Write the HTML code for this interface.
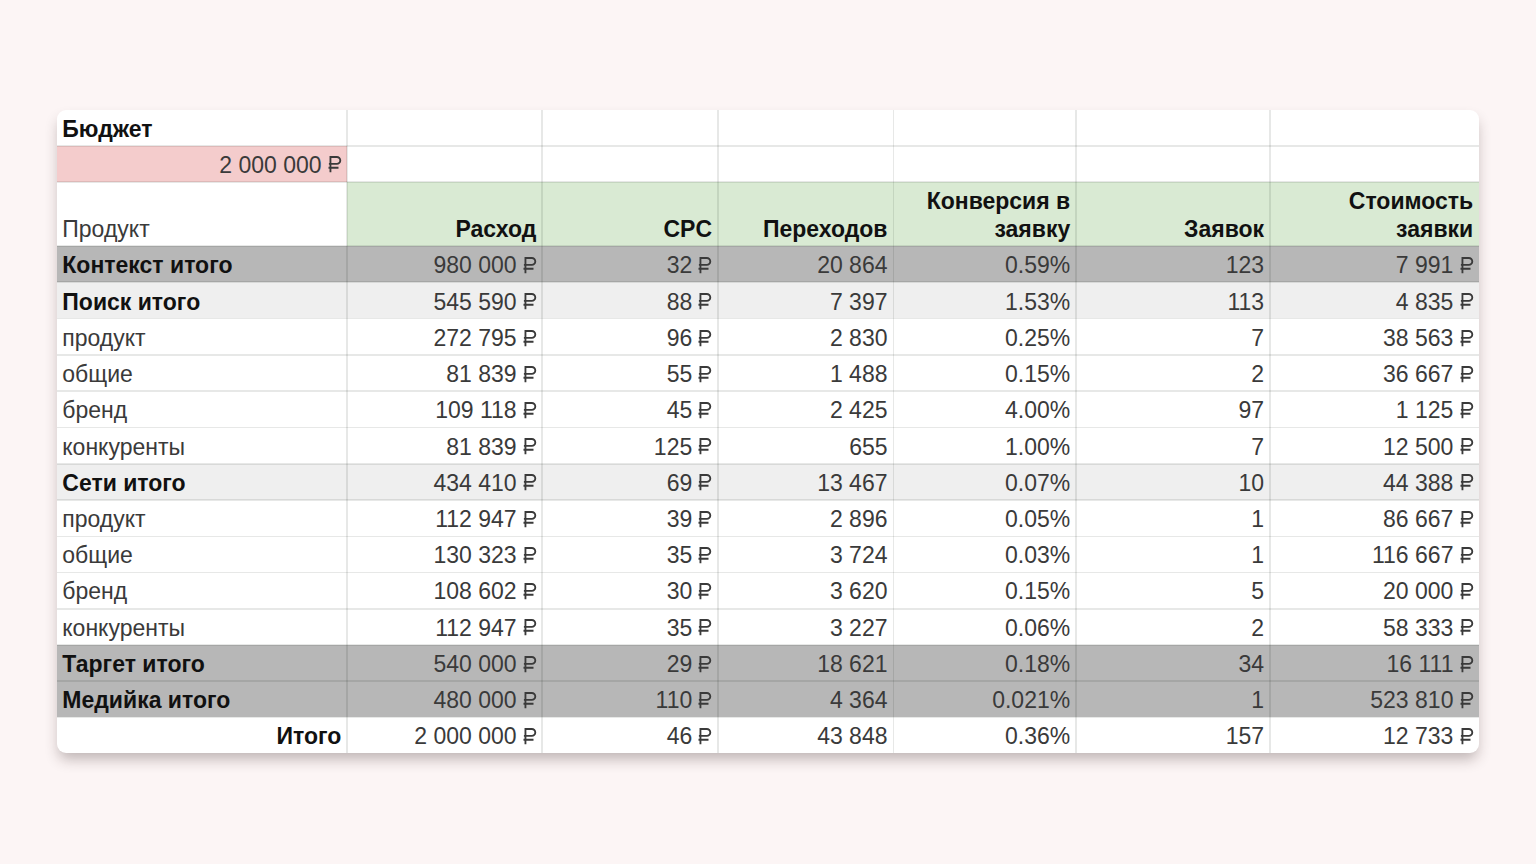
<!DOCTYPE html>
<html><head><meta charset="utf-8">
<style>
html,body{margin:0;padding:0;width:1536px;height:864px;overflow:hidden;background:#fcf5f5;}
body{position:relative;font-family:"Liberation Sans",sans-serif;font-size:23px;color:#3a3a3a;}
.card{position:absolute;left:57px;top:110.3px;width:1422px;height:642.7px;background:#fff;border-radius:9px;overflow:hidden;box-shadow:0 8px 14px -2px rgba(50,30,30,0.30);}
.bg{position:absolute;}
.vl{position:absolute;width:1.5px;background:rgba(0,10,5,0.095);}
.hl{position:absolute;height:1.5px;background:rgba(0,10,5,0.095);}
.t{position:absolute;white-space:nowrap;line-height:28px;height:28px;}
.b{font-weight:bold;color:#111;}
.R{text-align:right;}
.r{display:inline-block;vertical-align:baseline;overflow:visible;position:relative;left:-0.3px;}
</style></head><body>
<div class="card">
<div class="bg" style="left:0.00px;top:35.70px;width:290.20px;height:36.00px;background:#f4cccc"></div>
<div class="bg" style="left:290.20px;top:71.70px;width:1131.80px;height:64.00px;background:#d9ead3"></div>
<div class="bg" style="left:0.00px;top:135.70px;width:1422.00px;height:36.00px;background:#b7b7b7"></div>
<div class="bg" style="left:0.00px;top:171.70px;width:1422.00px;height:36.40px;background:#efefef"></div>
<div class="bg" style="left:0.00px;top:353.50px;width:1422.00px;height:36.20px;background:#efefef"></div>
<div class="bg" style="left:0.00px;top:534.50px;width:1422.00px;height:36.20px;background:#b7b7b7"></div>
<div class="bg" style="left:0.00px;top:570.70px;width:1422.00px;height:36.40px;background:#b7b7b7"></div>
<div class="vl" style="left:289.45px;top:0;height:642.7px"></div>
<div class="vl" style="left:484.45px;top:0;height:642.7px"></div>
<div class="vl" style="left:660.05px;top:0;height:642.7px"></div>
<div class="vl" style="left:835.55px;top:0;height:642.7px"></div>
<div class="vl" style="left:1018.25px;top:0;height:642.7px"></div>
<div class="vl" style="left:1212.15px;top:0;height:642.7px"></div>
<div class="hl" style="left:0;top:35.20px;width:1422px"></div>
<div class="hl" style="left:0;top:71.20px;width:1422px"></div>
<div class="hl" style="left:0;top:135.20px;width:1422px"></div>
<div class="hl" style="left:0;top:171.20px;width:1422px"></div>
<div class="hl" style="left:0;top:207.60px;width:1422px"></div>
<div class="hl" style="left:0;top:243.90px;width:1422px"></div>
<div class="hl" style="left:0;top:280.20px;width:1422px"></div>
<div class="hl" style="left:0;top:316.50px;width:1422px"></div>
<div class="hl" style="left:0;top:353.00px;width:1422px"></div>
<div class="hl" style="left:0;top:389.20px;width:1422px"></div>
<div class="hl" style="left:0;top:425.30px;width:1422px"></div>
<div class="hl" style="left:0;top:461.60px;width:1422px"></div>
<div class="hl" style="left:0;top:497.80px;width:1422px"></div>
<div class="hl" style="left:0;top:534.00px;width:1422px"></div>
<div class="hl" style="left:0;top:570.20px;width:1422px"></div>
<div class="hl" style="left:0;top:606.60px;width:1422px"></div>
<div class="t b" style="left:5.30px;top:4.23px">Бюджет</div>
<div class="t R" style="right:1137.60px;top:40.23px">2 000 000 <svg class="r" viewBox="0 0 13.4 17.25" width="13.4" height="17.25"><path d="M2.45 17.25V1.05M2.45 1.95H8.8A3.5 3.5 0 0 1 8.8 8.95H0.9M0.5 12.75H10.5" fill="none" stroke="currentColor" stroke-width="1.85"/></svg></div>
<div class="t" style="left:5.30px;top:104.43px">Продукт</div>
<div class="t b R" style="right:942.60px;top:104.93px">Расход</div>
<div class="t b R" style="right:767.00px;top:104.93px">CPC</div>
<div class="t b R" style="right:591.50px;top:104.93px">Переходов</div>
<div class="t b R" style="right:408.80px;top:76.53px">Конверсия в</div>
<div class="t b R" style="right:408.80px;top:104.93px">заявку</div>
<div class="t b R" style="right:214.90px;top:104.93px">Заявок</div>
<div class="t b R" style="right:5.80px;top:76.53px">Стоимость</div>
<div class="t b R" style="right:5.80px;top:104.93px">заявки</div>
<div class="t b" style="left:5.30px;top:141.14px">Контекст итого</div>
<div class="t R" style="right:942.60px;top:141.14px">980 000 <svg class="r" viewBox="0 0 13.4 17.25" width="13.4" height="17.25"><path d="M2.45 17.25V1.05M2.45 1.95H8.8A3.5 3.5 0 0 1 8.8 8.95H0.9M0.5 12.75H10.5" fill="none" stroke="currentColor" stroke-width="1.85"/></svg></div>
<div class="t R" style="right:767.00px;top:141.14px">32 <svg class="r" viewBox="0 0 13.4 17.25" width="13.4" height="17.25"><path d="M2.45 17.25V1.05M2.45 1.95H8.8A3.5 3.5 0 0 1 8.8 8.95H0.9M0.5 12.75H10.5" fill="none" stroke="currentColor" stroke-width="1.85"/></svg></div>
<div class="t R" style="right:591.50px;top:141.14px">20 864</div>
<div class="t R" style="right:408.80px;top:141.14px">0.59%</div>
<div class="t R" style="right:214.90px;top:141.14px">123</div>
<div class="t R" style="right:5.80px;top:141.14px">7 991 <svg class="r" viewBox="0 0 13.4 17.25" width="13.4" height="17.25"><path d="M2.45 17.25V1.05M2.45 1.95H8.8A3.5 3.5 0 0 1 8.8 8.95H0.9M0.5 12.75H10.5" fill="none" stroke="currentColor" stroke-width="1.85"/></svg></div>
<div class="t b" style="left:5.30px;top:177.36px">Поиск итого</div>
<div class="t R" style="right:942.60px;top:177.36px">545 590 <svg class="r" viewBox="0 0 13.4 17.25" width="13.4" height="17.25"><path d="M2.45 17.25V1.05M2.45 1.95H8.8A3.5 3.5 0 0 1 8.8 8.95H0.9M0.5 12.75H10.5" fill="none" stroke="currentColor" stroke-width="1.85"/></svg></div>
<div class="t R" style="right:767.00px;top:177.36px">88 <svg class="r" viewBox="0 0 13.4 17.25" width="13.4" height="17.25"><path d="M2.45 17.25V1.05M2.45 1.95H8.8A3.5 3.5 0 0 1 8.8 8.95H0.9M0.5 12.75H10.5" fill="none" stroke="currentColor" stroke-width="1.85"/></svg></div>
<div class="t R" style="right:591.50px;top:177.36px">7 397</div>
<div class="t R" style="right:408.80px;top:177.36px">1.53%</div>
<div class="t R" style="right:214.90px;top:177.36px">113</div>
<div class="t R" style="right:5.80px;top:177.36px">4 835 <svg class="r" viewBox="0 0 13.4 17.25" width="13.4" height="17.25"><path d="M2.45 17.25V1.05M2.45 1.95H8.8A3.5 3.5 0 0 1 8.8 8.95H0.9M0.5 12.75H10.5" fill="none" stroke="currentColor" stroke-width="1.85"/></svg></div>
<div class="t" style="left:5.30px;top:213.57px">продукт</div>
<div class="t R" style="right:942.60px;top:213.57px">272 795 <svg class="r" viewBox="0 0 13.4 17.25" width="13.4" height="17.25"><path d="M2.45 17.25V1.05M2.45 1.95H8.8A3.5 3.5 0 0 1 8.8 8.95H0.9M0.5 12.75H10.5" fill="none" stroke="currentColor" stroke-width="1.85"/></svg></div>
<div class="t R" style="right:767.00px;top:213.57px">96 <svg class="r" viewBox="0 0 13.4 17.25" width="13.4" height="17.25"><path d="M2.45 17.25V1.05M2.45 1.95H8.8A3.5 3.5 0 0 1 8.8 8.95H0.9M0.5 12.75H10.5" fill="none" stroke="currentColor" stroke-width="1.85"/></svg></div>
<div class="t R" style="right:591.50px;top:213.57px">2 830</div>
<div class="t R" style="right:408.80px;top:213.57px">0.25%</div>
<div class="t R" style="right:214.90px;top:213.57px">7</div>
<div class="t R" style="right:5.80px;top:213.57px">38 563 <svg class="r" viewBox="0 0 13.4 17.25" width="13.4" height="17.25"><path d="M2.45 17.25V1.05M2.45 1.95H8.8A3.5 3.5 0 0 1 8.8 8.95H0.9M0.5 12.75H10.5" fill="none" stroke="currentColor" stroke-width="1.85"/></svg></div>
<div class="t" style="left:5.30px;top:249.79px">общие</div>
<div class="t R" style="right:942.60px;top:249.79px">81 839 <svg class="r" viewBox="0 0 13.4 17.25" width="13.4" height="17.25"><path d="M2.45 17.25V1.05M2.45 1.95H8.8A3.5 3.5 0 0 1 8.8 8.95H0.9M0.5 12.75H10.5" fill="none" stroke="currentColor" stroke-width="1.85"/></svg></div>
<div class="t R" style="right:767.00px;top:249.79px">55 <svg class="r" viewBox="0 0 13.4 17.25" width="13.4" height="17.25"><path d="M2.45 17.25V1.05M2.45 1.95H8.8A3.5 3.5 0 0 1 8.8 8.95H0.9M0.5 12.75H10.5" fill="none" stroke="currentColor" stroke-width="1.85"/></svg></div>
<div class="t R" style="right:591.50px;top:249.79px">1 488</div>
<div class="t R" style="right:408.80px;top:249.79px">0.15%</div>
<div class="t R" style="right:214.90px;top:249.79px">2</div>
<div class="t R" style="right:5.80px;top:249.79px">36 667 <svg class="r" viewBox="0 0 13.4 17.25" width="13.4" height="17.25"><path d="M2.45 17.25V1.05M2.45 1.95H8.8A3.5 3.5 0 0 1 8.8 8.95H0.9M0.5 12.75H10.5" fill="none" stroke="currentColor" stroke-width="1.85"/></svg></div>
<div class="t" style="left:5.30px;top:286.00px">бренд</div>
<div class="t R" style="right:942.60px;top:286.00px">109 118 <svg class="r" viewBox="0 0 13.4 17.25" width="13.4" height="17.25"><path d="M2.45 17.25V1.05M2.45 1.95H8.8A3.5 3.5 0 0 1 8.8 8.95H0.9M0.5 12.75H10.5" fill="none" stroke="currentColor" stroke-width="1.85"/></svg></div>
<div class="t R" style="right:767.00px;top:286.00px">45 <svg class="r" viewBox="0 0 13.4 17.25" width="13.4" height="17.25"><path d="M2.45 17.25V1.05M2.45 1.95H8.8A3.5 3.5 0 0 1 8.8 8.95H0.9M0.5 12.75H10.5" fill="none" stroke="currentColor" stroke-width="1.85"/></svg></div>
<div class="t R" style="right:591.50px;top:286.00px">2 425</div>
<div class="t R" style="right:408.80px;top:286.00px">4.00%</div>
<div class="t R" style="right:214.90px;top:286.00px">97</div>
<div class="t R" style="right:5.80px;top:286.00px">1 125 <svg class="r" viewBox="0 0 13.4 17.25" width="13.4" height="17.25"><path d="M2.45 17.25V1.05M2.45 1.95H8.8A3.5 3.5 0 0 1 8.8 8.95H0.9M0.5 12.75H10.5" fill="none" stroke="currentColor" stroke-width="1.85"/></svg></div>
<div class="t" style="left:5.30px;top:322.22px">конкуренты</div>
<div class="t R" style="right:942.60px;top:322.22px">81 839 <svg class="r" viewBox="0 0 13.4 17.25" width="13.4" height="17.25"><path d="M2.45 17.25V1.05M2.45 1.95H8.8A3.5 3.5 0 0 1 8.8 8.95H0.9M0.5 12.75H10.5" fill="none" stroke="currentColor" stroke-width="1.85"/></svg></div>
<div class="t R" style="right:767.00px;top:322.22px">125 <svg class="r" viewBox="0 0 13.4 17.25" width="13.4" height="17.25"><path d="M2.45 17.25V1.05M2.45 1.95H8.8A3.5 3.5 0 0 1 8.8 8.95H0.9M0.5 12.75H10.5" fill="none" stroke="currentColor" stroke-width="1.85"/></svg></div>
<div class="t R" style="right:591.50px;top:322.22px">655</div>
<div class="t R" style="right:408.80px;top:322.22px">1.00%</div>
<div class="t R" style="right:214.90px;top:322.22px">7</div>
<div class="t R" style="right:5.80px;top:322.22px">12 500 <svg class="r" viewBox="0 0 13.4 17.25" width="13.4" height="17.25"><path d="M2.45 17.25V1.05M2.45 1.95H8.8A3.5 3.5 0 0 1 8.8 8.95H0.9M0.5 12.75H10.5" fill="none" stroke="currentColor" stroke-width="1.85"/></svg></div>
<div class="t b" style="left:5.30px;top:358.43px">Сети итого</div>
<div class="t R" style="right:942.60px;top:358.43px">434 410 <svg class="r" viewBox="0 0 13.4 17.25" width="13.4" height="17.25"><path d="M2.45 17.25V1.05M2.45 1.95H8.8A3.5 3.5 0 0 1 8.8 8.95H0.9M0.5 12.75H10.5" fill="none" stroke="currentColor" stroke-width="1.85"/></svg></div>
<div class="t R" style="right:767.00px;top:358.43px">69 <svg class="r" viewBox="0 0 13.4 17.25" width="13.4" height="17.25"><path d="M2.45 17.25V1.05M2.45 1.95H8.8A3.5 3.5 0 0 1 8.8 8.95H0.9M0.5 12.75H10.5" fill="none" stroke="currentColor" stroke-width="1.85"/></svg></div>
<div class="t R" style="right:591.50px;top:358.43px">13 467</div>
<div class="t R" style="right:408.80px;top:358.43px">0.07%</div>
<div class="t R" style="right:214.90px;top:358.43px">10</div>
<div class="t R" style="right:5.80px;top:358.43px">44 388 <svg class="r" viewBox="0 0 13.4 17.25" width="13.4" height="17.25"><path d="M2.45 17.25V1.05M2.45 1.95H8.8A3.5 3.5 0 0 1 8.8 8.95H0.9M0.5 12.75H10.5" fill="none" stroke="currentColor" stroke-width="1.85"/></svg></div>
<div class="t" style="left:5.30px;top:394.64px">продукт</div>
<div class="t R" style="right:942.60px;top:394.64px">112 947 <svg class="r" viewBox="0 0 13.4 17.25" width="13.4" height="17.25"><path d="M2.45 17.25V1.05M2.45 1.95H8.8A3.5 3.5 0 0 1 8.8 8.95H0.9M0.5 12.75H10.5" fill="none" stroke="currentColor" stroke-width="1.85"/></svg></div>
<div class="t R" style="right:767.00px;top:394.64px">39 <svg class="r" viewBox="0 0 13.4 17.25" width="13.4" height="17.25"><path d="M2.45 17.25V1.05M2.45 1.95H8.8A3.5 3.5 0 0 1 8.8 8.95H0.9M0.5 12.75H10.5" fill="none" stroke="currentColor" stroke-width="1.85"/></svg></div>
<div class="t R" style="right:591.50px;top:394.64px">2 896</div>
<div class="t R" style="right:408.80px;top:394.64px">0.05%</div>
<div class="t R" style="right:214.90px;top:394.64px">1</div>
<div class="t R" style="right:5.80px;top:394.64px">86 667 <svg class="r" viewBox="0 0 13.4 17.25" width="13.4" height="17.25"><path d="M2.45 17.25V1.05M2.45 1.95H8.8A3.5 3.5 0 0 1 8.8 8.95H0.9M0.5 12.75H10.5" fill="none" stroke="currentColor" stroke-width="1.85"/></svg></div>
<div class="t" style="left:5.30px;top:430.86px">общие</div>
<div class="t R" style="right:942.60px;top:430.86px">130 323 <svg class="r" viewBox="0 0 13.4 17.25" width="13.4" height="17.25"><path d="M2.45 17.25V1.05M2.45 1.95H8.8A3.5 3.5 0 0 1 8.8 8.95H0.9M0.5 12.75H10.5" fill="none" stroke="currentColor" stroke-width="1.85"/></svg></div>
<div class="t R" style="right:767.00px;top:430.86px">35 <svg class="r" viewBox="0 0 13.4 17.25" width="13.4" height="17.25"><path d="M2.45 17.25V1.05M2.45 1.95H8.8A3.5 3.5 0 0 1 8.8 8.95H0.9M0.5 12.75H10.5" fill="none" stroke="currentColor" stroke-width="1.85"/></svg></div>
<div class="t R" style="right:591.50px;top:430.86px">3 724</div>
<div class="t R" style="right:408.80px;top:430.86px">0.03%</div>
<div class="t R" style="right:214.90px;top:430.86px">1</div>
<div class="t R" style="right:5.80px;top:430.86px">116 667 <svg class="r" viewBox="0 0 13.4 17.25" width="13.4" height="17.25"><path d="M2.45 17.25V1.05M2.45 1.95H8.8A3.5 3.5 0 0 1 8.8 8.95H0.9M0.5 12.75H10.5" fill="none" stroke="currentColor" stroke-width="1.85"/></svg></div>
<div class="t" style="left:5.30px;top:467.07px">бренд</div>
<div class="t R" style="right:942.60px;top:467.07px">108 602 <svg class="r" viewBox="0 0 13.4 17.25" width="13.4" height="17.25"><path d="M2.45 17.25V1.05M2.45 1.95H8.8A3.5 3.5 0 0 1 8.8 8.95H0.9M0.5 12.75H10.5" fill="none" stroke="currentColor" stroke-width="1.85"/></svg></div>
<div class="t R" style="right:767.00px;top:467.07px">30 <svg class="r" viewBox="0 0 13.4 17.25" width="13.4" height="17.25"><path d="M2.45 17.25V1.05M2.45 1.95H8.8A3.5 3.5 0 0 1 8.8 8.95H0.9M0.5 12.75H10.5" fill="none" stroke="currentColor" stroke-width="1.85"/></svg></div>
<div class="t R" style="right:591.50px;top:467.07px">3 620</div>
<div class="t R" style="right:408.80px;top:467.07px">0.15%</div>
<div class="t R" style="right:214.90px;top:467.07px">5</div>
<div class="t R" style="right:5.80px;top:467.07px">20 000 <svg class="r" viewBox="0 0 13.4 17.25" width="13.4" height="17.25"><path d="M2.45 17.25V1.05M2.45 1.95H8.8A3.5 3.5 0 0 1 8.8 8.95H0.9M0.5 12.75H10.5" fill="none" stroke="currentColor" stroke-width="1.85"/></svg></div>
<div class="t" style="left:5.30px;top:503.29px">конкуренты</div>
<div class="t R" style="right:942.60px;top:503.29px">112 947 <svg class="r" viewBox="0 0 13.4 17.25" width="13.4" height="17.25"><path d="M2.45 17.25V1.05M2.45 1.95H8.8A3.5 3.5 0 0 1 8.8 8.95H0.9M0.5 12.75H10.5" fill="none" stroke="currentColor" stroke-width="1.85"/></svg></div>
<div class="t R" style="right:767.00px;top:503.29px">35 <svg class="r" viewBox="0 0 13.4 17.25" width="13.4" height="17.25"><path d="M2.45 17.25V1.05M2.45 1.95H8.8A3.5 3.5 0 0 1 8.8 8.95H0.9M0.5 12.75H10.5" fill="none" stroke="currentColor" stroke-width="1.85"/></svg></div>
<div class="t R" style="right:591.50px;top:503.29px">3 227</div>
<div class="t R" style="right:408.80px;top:503.29px">0.06%</div>
<div class="t R" style="right:214.90px;top:503.29px">2</div>
<div class="t R" style="right:5.80px;top:503.29px">58 333 <svg class="r" viewBox="0 0 13.4 17.25" width="13.4" height="17.25"><path d="M2.45 17.25V1.05M2.45 1.95H8.8A3.5 3.5 0 0 1 8.8 8.95H0.9M0.5 12.75H10.5" fill="none" stroke="currentColor" stroke-width="1.85"/></svg></div>
<div class="t b" style="left:5.30px;top:539.50px">Таргет итого</div>
<div class="t R" style="right:942.60px;top:539.50px">540 000 <svg class="r" viewBox="0 0 13.4 17.25" width="13.4" height="17.25"><path d="M2.45 17.25V1.05M2.45 1.95H8.8A3.5 3.5 0 0 1 8.8 8.95H0.9M0.5 12.75H10.5" fill="none" stroke="currentColor" stroke-width="1.85"/></svg></div>
<div class="t R" style="right:767.00px;top:539.50px">29 <svg class="r" viewBox="0 0 13.4 17.25" width="13.4" height="17.25"><path d="M2.45 17.25V1.05M2.45 1.95H8.8A3.5 3.5 0 0 1 8.8 8.95H0.9M0.5 12.75H10.5" fill="none" stroke="currentColor" stroke-width="1.85"/></svg></div>
<div class="t R" style="right:591.50px;top:539.50px">18 621</div>
<div class="t R" style="right:408.80px;top:539.50px">0.18%</div>
<div class="t R" style="right:214.90px;top:539.50px">34</div>
<div class="t R" style="right:5.80px;top:539.50px">16 111 <svg class="r" viewBox="0 0 13.4 17.25" width="13.4" height="17.25"><path d="M2.45 17.25V1.05M2.45 1.95H8.8A3.5 3.5 0 0 1 8.8 8.95H0.9M0.5 12.75H10.5" fill="none" stroke="currentColor" stroke-width="1.85"/></svg></div>
<div class="t b" style="left:5.30px;top:575.72px">Медийка итого</div>
<div class="t R" style="right:942.60px;top:575.72px">480 000 <svg class="r" viewBox="0 0 13.4 17.25" width="13.4" height="17.25"><path d="M2.45 17.25V1.05M2.45 1.95H8.8A3.5 3.5 0 0 1 8.8 8.95H0.9M0.5 12.75H10.5" fill="none" stroke="currentColor" stroke-width="1.85"/></svg></div>
<div class="t R" style="right:767.00px;top:575.72px">110 <svg class="r" viewBox="0 0 13.4 17.25" width="13.4" height="17.25"><path d="M2.45 17.25V1.05M2.45 1.95H8.8A3.5 3.5 0 0 1 8.8 8.95H0.9M0.5 12.75H10.5" fill="none" stroke="currentColor" stroke-width="1.85"/></svg></div>
<div class="t R" style="right:591.50px;top:575.72px">4 364</div>
<div class="t R" style="right:408.80px;top:575.72px">0.021%</div>
<div class="t R" style="right:214.90px;top:575.72px">1</div>
<div class="t R" style="right:5.80px;top:575.72px">523 810 <svg class="r" viewBox="0 0 13.4 17.25" width="13.4" height="17.25"><path d="M2.45 17.25V1.05M2.45 1.95H8.8A3.5 3.5 0 0 1 8.8 8.95H0.9M0.5 12.75H10.5" fill="none" stroke="currentColor" stroke-width="1.85"/></svg></div>
<div class="t b R" style="right:1137.60px;top:611.93px">Итого</div>
<div class="t R" style="right:942.60px;top:611.93px">2 000 000 <svg class="r" viewBox="0 0 13.4 17.25" width="13.4" height="17.25"><path d="M2.45 17.25V1.05M2.45 1.95H8.8A3.5 3.5 0 0 1 8.8 8.95H0.9M0.5 12.75H10.5" fill="none" stroke="currentColor" stroke-width="1.85"/></svg></div>
<div class="t R" style="right:767.00px;top:611.93px">46 <svg class="r" viewBox="0 0 13.4 17.25" width="13.4" height="17.25"><path d="M2.45 17.25V1.05M2.45 1.95H8.8A3.5 3.5 0 0 1 8.8 8.95H0.9M0.5 12.75H10.5" fill="none" stroke="currentColor" stroke-width="1.85"/></svg></div>
<div class="t R" style="right:591.50px;top:611.93px">43 848</div>
<div class="t R" style="right:408.80px;top:611.93px">0.36%</div>
<div class="t R" style="right:214.90px;top:611.93px">157</div>
<div class="t R" style="right:5.80px;top:611.93px">12 733 <svg class="r" viewBox="0 0 13.4 17.25" width="13.4" height="17.25"><path d="M2.45 17.25V1.05M2.45 1.95H8.8A3.5 3.5 0 0 1 8.8 8.95H0.9M0.5 12.75H10.5" fill="none" stroke="currentColor" stroke-width="1.85"/></svg></div>
</div></body></html>
